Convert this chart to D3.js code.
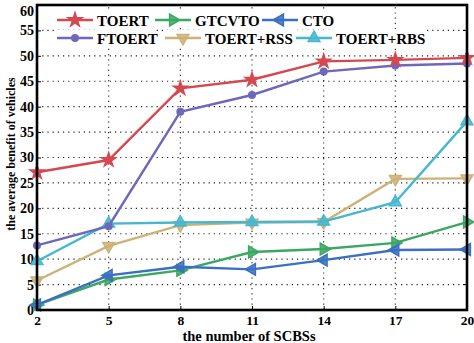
<!DOCTYPE html>
<html lang="en">
<head>
<meta charset="utf-8">
<title>Average benefit of vehicles vs number of SCBSs</title>
<script src="https://cdn.jsdelivr.net/npm/d3@7/dist/d3.min.js"></script>
<style>
    html, body { margin: 0; padding: 0; background: #fff; }
    svg text { font-family: "Liberation Serif", "Times New Roman", serif; font-weight: bold; }
</style>
</head>
<body>
<script>
    // number of SCBSs on the x axis
    const scbs = [2, 5, 8, 11, 14, 17, 20];
    const yTicks = [0, 5, 10, 15, 20, 25, 30, 35, 40, 45, 50, 55, 60];

    // average benefit of vehicles, one array per scheme
    const toert    = [27.1, 29.5, 43.6, 45.3, 48.9, 49.2, 49.6];
    const ftoert   = [12.7, 16.5, 39.0, 42.3, 46.9, 48.1, 48.5];
    const gtcvto   = [1.0, 6.0, 7.8, 11.4, 12.0, 13.2, 17.3];
    const cto      = [1.0, 6.8, 8.5, 8.0, 9.8, 11.8, 11.9];
    const toertRss = [5.8, 12.6, 16.7, 17.2, 17.3, 25.8, 25.9];
    const toertRbs = [9.6, 17.0, 17.2, 17.3, 17.4, 21.2, 37.1];

    const series = [
        {name: "TOERT",     values: toert,    color: "#d5484f", marker: "star"},
        {name: "GTCVTO",    values: gtcvto,   color: "#3aa862", marker: "right"},
        {name: "CTO",       values: cto,      color: "#3b6fc2", marker: "left"},
        {name: "FTOERT",    values: ftoert,   color: "#6e68bb", marker: "circle"},
        {name: "TOERT+RSS", values: toertRss, color: "#cdb276", marker: "down"},
        {name: "TOERT+RBS", values: toertRbs, color: "#46b7cf", marker: "up"}
    ];

    const W = 474, H = 343;
    const m = {top: 5, right: 7, bottom: 33, left: 37};

    const svg = d3.select("body").append("svg")
        .attr("width", W).attr("height", H);

    const x = d3.scaleLinear().domain([2, 20]).range([m.left, W - m.right]);
    const y = d3.scaleLinear().domain([0, 60]).range([H - m.bottom, m.top]);

    // dotted grid
    const grid = svg.append("g")
        .attr("stroke", "#222").attr("stroke-width", 1.1)
        .attr("stroke-dasharray", "1.2,4");
    grid.selectAll(".gx").data(scbs.slice(1, -1)).join("line")
        .attr("x1", d => x(d)).attr("x2", d => x(d))
        .attr("y1", y(0)).attr("y2", y(60));
    grid.selectAll(".gy").data(yTicks.slice(1, -1)).join("line")
        .attr("x1", x(2)).attr("x2", x(20))
        .attr("y1", d => y(d)).attr("y2", d => y(d));

    // axes
    svg.append("g")
        .attr("transform", `translate(0,${y(0)})`)
        .call(d3.axisBottom(x).tickValues(scbs).tickSize(-4).tickPadding(5))
        .call(g => g.select(".domain").remove())
        .call(g => g.selectAll("text").attr("font-size", 13.5).attr("fill", "#000"));
    svg.append("g")
        .attr("transform", `translate(${x(2)},0)`)
        .call(d3.axisLeft(y).tickValues(yTicks).tickSize(-4).tickPadding(3))
        .call(g => g.select(".domain").remove())
        .call(g => g.selectAll("text").attr("font-size", 14).attr("fill", "#000"))
        .call(g => g.selectAll(".tick").filter(d => d === 60).select("text").attr("dy", "0.75em"));
    // inner ticks on right side
    svg.append("g").selectAll("line").data(yTicks).join("line")
        .attr("x1", x(20)).attr("x2", x(20) - 4)
        .attr("y1", d => y(d)).attr("y2", d => y(d))
        .attr("stroke", "#000");

    const line = d3.line()
        .x((d, i) => x(scbs[i]))
        .y(d => y(d));

    const starPath = d3.symbol(d3.symbolStar, 105)();
    const triPath = d3.symbol(d3.symbolTriangle, 60)();

    function drawMarker(g, type, color) {
        if (type === "circle") {
            g.append("circle").attr("r", 4).attr("fill", color);
        } else if (type === "star") {
            g.append("path").attr("d", starPath).attr("fill", color);
        } else {
            const rot = {up: 0, down: 180, right: 90, left: -90}[type];
            g.append("path").attr("d", triPath)
                .attr("fill", color).attr("fill-opacity", 0.85)
                .attr("stroke", color).attr("stroke-width", 1.5)
                .attr("transform", `rotate(${rot})`);
        }
    }

    const order = ["TOERT+RSS", "TOERT+RBS", "GTCVTO", "CTO", "FTOERT", "TOERT"];
    order.map(n => series.find(s => s.name === n)).forEach(s => {
        svg.append("path")
            .datum(s.values)
            .attr("d", line)
            .attr("fill", "none")
            .attr("stroke", s.color)
            .attr("stroke-width", 2.4);
        s.values.forEach((v, i) => {
            const g = svg.append("g").attr("transform", `translate(${x(scbs[i])},${y(v)})`);
            drawMarker(g, s.marker, s.color);
        });
    });

    // frame
    svg.append("rect")
        .attr("x", x(2)).attr("y", y(60))
        .attr("width", x(20) - x(2)).attr("height", y(0) - y(60))
        .attr("fill", "none").attr("stroke", "#000").attr("stroke-width", 2.6);

    // legend, two rows of three
    const legendPos = [
        [57, 20], [155, 20], [262, 20],
        [57, 38], [165, 38], [296, 38]
    ];
    series.forEach((s, i) => {
        const [lx, ly] = legendPos[i];
        const g = svg.append("g").attr("transform", `translate(${lx},${ly})`);
        g.append("rect").attr("x", -2).attr("y", -8).attr("width", 40).attr("height", 16).attr("fill", "#fff");
        g.append("line").attr("x1", 0).attr("x2", 36)
            .attr("stroke", s.color).attr("stroke-width", 2.4);
        drawMarker(g.append("g").attr("transform", "translate(18,0)"), s.marker, s.color);
        g.append("rect").attr("x", 38).attr("y", -9).attr("width", s.name.length * 10).attr("height", 18).attr("fill", "#fff");
        g.append("text").attr("x", 40).attr("y", 5.5)
            .attr("font-size", 15).text(s.name);
    });

    // axis titles
    svg.append("text")
        .attr("x", 249).attr("y", 341)
        .attr("text-anchor", "middle").attr("font-size", 14.5)
        .text("the number of SCBSs");
    svg.append("text")
        .attr("transform", "translate(15,154) rotate(-90)")
        .attr("text-anchor", "middle").attr("font-size", 12)
        .text("the average benefit of vehicles");
</script>
</body>
</html>
